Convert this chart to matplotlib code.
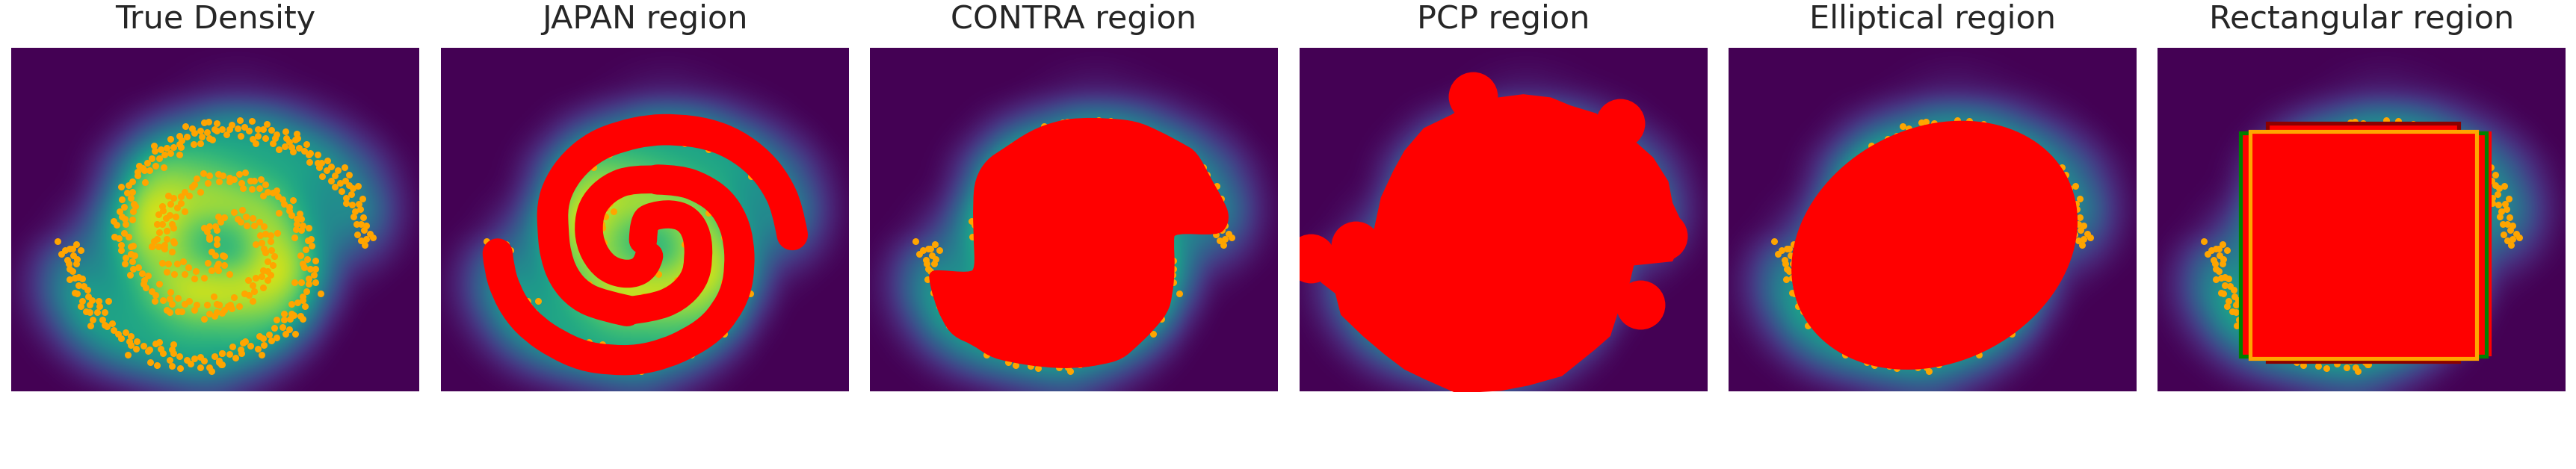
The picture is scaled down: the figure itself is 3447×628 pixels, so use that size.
import numpy as np
import matplotlib
matplotlib.use("Agg")
import matplotlib.pyplot as plt
from matplotlib.patches import Ellipse, PathPatch, Polygon, Rectangle
from matplotlib.path import Path

TITLES = ["True Density", "JAPAN region", "CONTRA region", "PCP region",
          "Elliptical region", "Rectangular region"]

# Density, rows top to bottom, columns left to right
DENSITY = [
 [0,0,0,0,0,0,0,0,0,0,0,0,0,0,0,0,0,0,0],
 [0,0,0,0,0,0,0,0,.01,.02,.03,.02,.01,0,0,0,0,0,0],
 [0,0,0,0,0,0,0,.02,.04,.07,.08,.07,.05,.03,.01,0,0,0,0],
 [0,0,0,0,0,.03,.1,.2,.3,.42,.45,.42,.33,.2,.1,.04,0,0,0],
 [0,0,0,0,.03,.15,.38,.55,.6,.6,.58,.58,.58,.5,.35,.18,.07,0,0],
 [0,0,0,.01,.12,.4,.7,.75,.72,.68,.64,.6,.58,.58,.55,.38,.2,.05,0],
 [0,0,0,.02,.2,.57,.83,.88,.85,.83,.78,.72,.64,.54,.5,.5,.3,.1,0],
 [0,0,.02,.08,.35,.72,.95,.95,.88,.88,.88,.86,.75,.57,.46,.52,.4,.13,.01],
 [0,.01,.06,.22,.45,.74,.95,.9,.74,.66,.72,.9,.85,.62,.45,.42,.32,.1,0],
 [0,.08,.28,.38,.45,.67,.85,.88,.74,.63,.64,.88,.93,.75,.42,.25,.15,.04,0],
 [.01,.14,.4,.52,.48,.6,.75,.88,.9,.88,.88,.95,.96,.75,.38,.08,.03,0,0],
 [.01,.12,.4,.6,.56,.56,.7,.85,.94,.94,.92,.9,.83,.64,.25,.02,0,0,0],
 [0,.06,.25,.55,.6,.58,.6,.67,.74,.74,.74,.74,.7,.45,.08,0,0,0,0],
 [0,.01,.1,.3,.5,.58,.6,.62,.62,.62,.65,.6,.42,.15,.01,0,0,0,0],
 [0,0,.01,.08,.2,.33,.42,.5,.55,.52,.42,.28,.12,.02,0,0,0,0,0],
 [0,0,0,0,.01,.03,.08,.13,.18,.2,.12,.05,.01,0,0,0,0,0,0],
]

# Sample points, read from four enlarged views of the first panel
POINTS_UL = [
 (565,57),(640,43),(657,40),(590,65),(600,85),(625,75),(650,80),(680,70),(630,100),(660,105),(672,112),
 (598,128),(625,125),(540,95),(550,115),(570,100),(505,108),(540,130),(545,140),(438,135),(440,155),
 (465,150),(490,145),(515,140),(505,165),(540,172),(480,170),(460,185),(430,185),(410,205),(378,215),
 (392,225),(372,240),(372,255),(400,235),(420,235),(445,215),(478,222),(350,278),(335,295),(403,282),
 (305,301),(350,320),(330,325),(310,350),(345,345),(358,370),(318,380),(362,378),(300,400),(355,400),
 (310,420),(320,430),(350,433),(275,437),(287,452),(325,450),(278,502),(298,507),(318,485),(335,500),
 (637,247),(610,268),(660,255),(655,285),(600,290),(625,320),(590,300),(560,320),(545,340),(580,335),
 (495,337),(515,345),(545,365),(505,370),(470,377),(530,385),(560,398),(475,395),(455,410),(500,415),
 (525,420),(485,425),(470,450),(450,450),(510,450),(490,478),(460,482),(515,465),(640,465),(660,460),
 (685,460),(650,480),(660,500),
]
POINTS_UR = [
 (0,45),(20,70),(0,75),(40,90),(60,50),(50,70),(93,33),(85,65),(112,60),(95,95),(130,75),(142,37),
 (165,70),(185,70),(165,95),(145,108),(155,127),(195,105),(200,48),(218,73),(240,90),(235,105),(225,125),
 (275,77),(278,105),(320,87),(325,105),(315,110),(290,120),(272,138),(250,150),(300,140),(305,158),
 (330,145),(360,130),(350,155),(375,165),(405,170),(370,170),(373,200),(405,205),(420,205),(445,195),
 (410,222),(460,218),(440,235),(485,235),(513,223),(475,255),(460,275),(422,258),(530,253),(515,275),
 (495,285),(530,295),(568,298),(475,300),(500,318),(545,305),(540,330),(520,345),(520,365),(585,348),
 (543,372),(570,370),(575,390),(555,400),(550,420),(587,422),(560,450),(580,450),(600,455),(590,475),
 (565,493),(615,490),(628,505),(580,515),(600,510),(595,535),
 (5,250),(25,255),(115,243),(90,250),(50,265),(70,270),(10,280),(50,280),(100,285),(105,305),(135,275),
 (150,275),(178,270),(195,290),(140,310),(170,305),(185,335),(205,320),(240,315),(225,325),(245,340),
 (265,350),(270,370),(305,355),(290,380),(290,395),(333,407),(250,405),(300,415),(320,430),(338,430),
 (320,450),(345,455),(368,465),(318,470),(340,475),(312,503),(378,510),(365,515),(380,537),(358,553),
 (68,403),(103,392),(85,430),(95,440),(118,420),(120,455),(145,425),(150,455),(170,440),(190,460),
 (195,490),(175,495),(215,495),(242,485),(155,530),(180,525),(215,520),(190,550),(220,555),(195,565),
 (5,420),(30,422),(15,440),(0,475),(0,510),
]
POINTS_LL = [
 (50,10),(127,20),(145,44),(65,60),(80,45),(100,40),(110,40),(115,65),(90,85),(130,80),(95,100),(125,100),
 (100,120),(110,130),(98,162),(120,155),(135,152),(150,160),(135,185),(155,190),(170,205),(120,215),
 (130,220),(175,230),(190,245),(255,250),(150,250),(215,250),(145,270),(180,265),(220,270),(165,290),
 (180,295),(210,295),(240,295),(193,323),(230,325),(183,347),(240,345),(250,350),(270,340),(275,365),
 (295,380),(325,375),(305,400),(345,390),(340,410),(370,410),(345,425),(365,442),(395,430),(420,445),
 (415,450),(460,415),(445,420),(465,440),(475,460),(515,422),(510,445),(333,465),(422,495),(450,508),
 (515,460),(500,485),(510,510),(540,470),(570,485),(585,500),(542,520),(600,480),(625,475),(640,490),
 (625,515),(660,515),(670,530),(680,470),(700,490),(710,460),(710,505),
 (305,25),(305,45),(345,30),(355,28),(325,75),(345,60),(360,65),(320,100),(350,90),(355,120),(375,115),
 (343,145),(390,137),(415,147),(400,165),(395,180),(460,180),(405,195),(505,212),(430,210),(445,225),
 (440,250),(475,245),(500,240),(533,237),(510,260),(490,285),(500,295),(535,290),(550,290),(560,260),
 (580,250),(600,285),(610,265),(650,265),(640,320),(660,300),(680,310),(700,265),(690,260),(720,285),
 (678,232),(430,30),(455,30),(480,25),(520,15),(480,40),(510,50),(470,97),(495,100),(530,100),(555,90),
 (575,115),(490,132),(520,140),(560,140),(605,130),(600,160),(640,155),(655,95),(670,50),(685,65),
 (715,65),(690,110),(670,125),(450,0),(438,8),(428,30),(490,0),(515,10),(660,0),(690,20),
]
POINTS_LR = [
 (335,65),(362,80),(395,87),(345,100),(350,115),(395,120),(375,120),(390,145),(370,160),(395,175),
 (312,175),(340,175),(370,180),(360,210),(417,220),(345,230),(345,245),(353,270),(325,255),(300,262),
 (270,300),(300,300),(310,305),(295,322),(335,310),(345,322),(240,325),(270,325),(230,357),(265,355),
 (292,362),(275,380),(314,382),(210,385),(240,395),(220,408),(170,390),(185,400),(115,410),(105,417),
 (135,430),(165,440),(190,425),(180,465),(62,432),(95,445),(20,460),(50,462),(75,478),(100,460),
 (10,495),(18,505),(230,70),(205,90),(225,105),(185,125),(205,130),(125,165),(155,155),(180,150),
 (215,145),(205,165),(185,195),(145,185),(110,220),(130,225),(150,210),(145,248),(70,235),(55,265),
 (45,270),(90,270),(60,280),(10,265),(0,295),(20,297),(30,68),(50,140),(5,100),(30,105),(5,125),
]

JAPAN_ARM_A_OUTER = [(232,950),(238,1010),(262,1090),(305,1170),(365,1235),(445,1290),(540,1335),(640,1350),
 (740,1350),(840,1325),(925,1285),(1000,1235),(1055,1170),(1095,1090),(1108,1000),(1105,910),(1085,830),
 (1040,755),(970,705),(890,675),(810,673)]
JAPAN_ARM_A_INNER = [(810,673),(720,670),(640,700),(580,760),(560,830),(565,910),(600,980),
 (650,1020),(720,1030),(770,1000),(780,960)]
JAPAN_ARM_B_OUTER = [(1298,880),(1280,780),(1240,690),(1180,610),(1090,540),(990,500),(880,485),(780,487),
 (680,510),(590,545),(510,610),(455,690),(430,770),(432,860),(440,950),(470,1040),(530,1110),(610,1145),
 (700,1165)]
JAPAN_ARM_B_INNER = [(700,1165),(790,1155),(880,1120),(945,1050),(960,970),(955,880),(920,820),(860,800),
 (790,810),(760,830),(758,900)]
CONTRA_OUTLINE = [(460,600),(520,560),(620,490),(720,453),(800,443),(900,445),(1000,455),(1080,490),
 (1170,540),(1220,570),(1270,670),(1320,760),(1337,810),(1325,855),(1295,880),(1140,872),(1135,900),
 (1140,1010),(1130,1110),(1115,1170),(1060,1240),(1000,1300),(950,1345),(880,1365),(780,1380),(660,1375),
 (540,1355),(470,1335),(410,1290),(340,1260),(300,1200),(270,1120),(252,1040),(258,1020),(280,1013),
 (400,1024),(420,1005),(415,900),(412,760),(420,670)]
PCP_OUTLINE = [(320,860),(345,740),(390,640),(430,565),(500,480),(560,450),(600,430),(680,380),(770,365),
 (860,353),(960,365),(1030,395),(1125,425),(1210,520),(1270,535),(1330,590),(1385,680),(1400,760),
 (1450,870),(1400,980),(1260,995),(1245,1060),(1200,1180),(1175,1260),(1120,1310),(1060,1360),(1000,1410),
 (880,1445),(780,1465),(620,1475),(500,1420),(430,1385),(360,1330),(280,1260),(200,1180),(180,1100),
 (130,1060),(90,1000),(200,900)]
PCP_CIRCLES = [(678,362),(1210,462),(92,968),(255,922),(1283,1143),(1365,885)]

# Ellipse in panel units: centre, full axes, tilt
ELLIPSE_CENTER = (275.6, 264.3)
ELLIPSE_AXES = (398.8, 314.0)
ELLIPSE_TILT = -27.0

# Rectangles in panel units: left, top, right, bottom, edge colour
RECT_LEFT = [147, 113, 111, 124]
RECT_TOP = [101, 113.5, 113.6, 112]
RECT_RIGHT = [403, 444, 439.4, 426.7]
RECT_BOTTOM = [419.5, 409.5, 413.4, 415.6]
RECT_EDGES = ["darkred", "red", "green", "orange"]

W, H = 3448, 628
DPI = 100
PANEL_LEFT = [15.3, 590.0, 1164.0, 1739.0, 2313.0, 2887.3]
PANEL_W, PANEL_H = 545.5, 460.5
PANEL_TOP = 64.0

plt.rcParams["font.family"] = "DejaVu Sans"
fig = plt.figure(figsize=(W / DPI, H / DPI), dpi=DPI, facecolor="white")


def crop_pts(points, ox, oy):
    a = np.array(points, float)
    return np.c_[ox + a[:, 0] / 3 - PANEL_LEFT[0], oy + a[:, 1] / 3 - PANEL_TOP]


def view_pts(points, left):
    a = np.array(points, float)
    return np.c_[(a[:, 0] - left) / 2.703, (a[:, 1] - 179) / 2.8]


def rounded_path(p, closed=False):
    """Quadratic curves that use the read vertices as control points."""
    if closed:
        start = (p[-1] + p[0]) / 2
        verts, codes = [start], [Path.MOVETO]
        for i in range(len(p)):
            verts += [p[i], (p[i] + p[(i + 1) % len(p)]) / 2]
            codes += [Path.CURVE3, Path.CURVE3]
        return Path(verts, codes)
    verts, codes = [p[0]], [Path.MOVETO]
    for i in range(1, len(p) - 1):
        end = (p[i] + p[i + 1]) / 2 if i < len(p) - 2 else p[-1]
        verts += [p[i], end]
        codes += [Path.CURVE3, Path.CURVE3]
    return Path(verts, codes)


points = np.vstack([crop_pts(POINTS_UL, 60, 150), crop_pts(POINTS_UR, 290, 150),
                    crop_pts(POINTS_LL, 60, 320), crop_pts(POINTS_LR, 290, 320)])

density = np.array(DENSITY)
ny, nx = density.shape
dx, dy = PANEL_W / (nx - 1), PANEL_H / (ny - 1)

axes = []
for left, title in zip(PANEL_LEFT, TITLES):
    ax = fig.add_axes([left / W, 1 - (PANEL_TOP + PANEL_H) / H, PANEL_W / W, PANEL_H / H])
    ax.imshow(density, cmap="viridis", vmin=0, vmax=1, interpolation="bicubic",
              interpolation_stage="data", aspect="auto",
              extent=(-dx / 2, PANEL_W + dx / 2, PANEL_H + dy / 2, -dy / 2), zorder=0)
    ax.scatter(points[:, 0], points[:, 1], s=42, color="orange", linewidths=0, zorder=2)
    ax.set_xlim(0, PANEL_W)
    ax.set_ylim(PANEL_H, 0)
    ax.axis("off")
    ax.set_title(title, fontsize=31, color="#262626", pad=18.5)
    axes.append(ax)

for arm, width in ((JAPAN_ARM_A_OUTER, 29), (JAPAN_ARM_A_INNER, 27),
                   (JAPAN_ARM_B_OUTER, 30), (JAPAN_ARM_B_INNER, 27)):
    axes[1].add_patch(PathPatch(rounded_path(view_pts(arm, 27)), fill=False, ec="red", lw=width,
                                capstyle="round", joinstyle="round", zorder=3))

axes[2].add_patch(PathPatch(rounded_path(view_pts(CONTRA_OUTLINE, 38), closed=True),
                            fc="red", ec="red", lw=1, zorder=3))

axes[3].add_patch(Polygon(view_pts(PCP_OUTLINE, 51), closed=True, fc="red", ec="red", lw=0, zorder=3))
c = view_pts(PCP_CIRCLES, 51)
axes[3].scatter(c[:, 0], c[:, 1], s=2250, color="red", linewidths=0, zorder=3)

axes[4].add_patch(Ellipse(ELLIPSE_CENTER, ELLIPSE_AXES[0], ELLIPSE_AXES[1], angle=ELLIPSE_TILT,
                          fc="red", ec="none", zorder=3))

for l, t, r, b, e in zip(RECT_LEFT, RECT_TOP, RECT_RIGHT, RECT_BOTTOM, RECT_EDGES):
    axes[5].add_patch(Rectangle((l, t), r - l, b - t, fc="red", ec=e, lw=3.75, zorder=3))

fig.savefig("out.png", dpi=DPI, facecolor="white")
